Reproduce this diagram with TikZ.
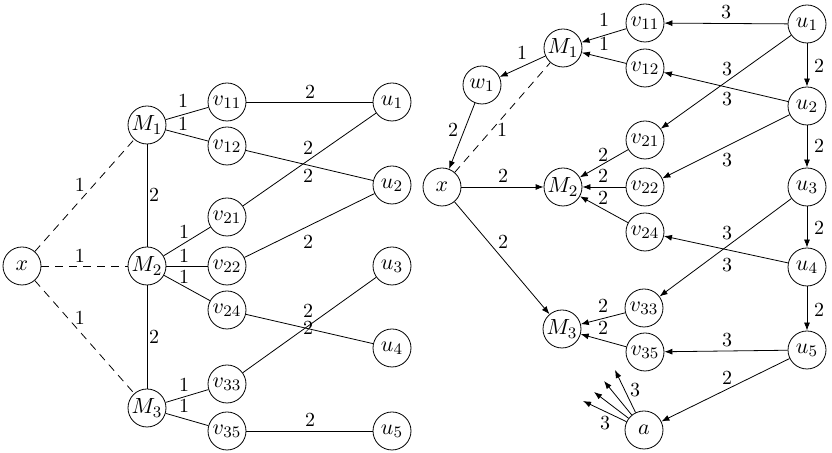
\documentclass[tikz,border=0pt]{standalone}
\usetikzlibrary{arrows.meta}
\begin{document}
\begin{tikzpicture}[x=0.5pt,y=-0.5pt,
  v/.style={circle,draw,inner sep=0pt,minimum size=19pt,font=\fontsize{11}{12}\selectfont},
  lab/.style={inner sep=0pt,font=\fontsize{10}{12}\selectfont},
  e/.style={draw,line width=0.4pt},
  a/.style={e,-{Latex[length=4pt,width=3pt]}},
  d/.style={e,dashed,dash pattern=on 4pt off 3pt}]
\useasboundingbox (0,0) rectangle (832,453);
% left graph
\node[v] (x) at (22,266) {$x$};
\node[v] (M1) at (147,125) {$M_1$};
\node[v] (M2) at (147,266) {$M_2$};
\node[v] (M3) at (147,408) {$M_3$};
\node[v] (v11) at (227,102) {$v_{11}$};
\node[v] (v12) at (227,146) {$v_{12}$};
\node[v] (v21) at (227,217) {$v_{21}$};
\node[v] (v22) at (227,266) {$v_{22}$};
\node[v] (v24) at (227,310) {$v_{24}$};
\node[v] (v33) at (227,384) {$v_{33}$};
\node[v] (v35) at (227,431) {$v_{35}$};
\node[v] (u1) at (392,102) {$u_1$};
\node[v] (u2) at (392,185) {$u_2$};
\node[v] (u3) at (392,266) {$u_3$};
\node[v] (u4) at (392,348) {$u_4$};
\node[v] (u5) at (392,431) {$u_5$};
\path[d] (x) -- (M1) node[lab] at (80,185) {1};
\path[d] (x) -- (M2) node[lab] at (80,256) {1};
\path[d] (x) -- (M3) node[lab] at (80,318) {1};
\path[e] (M1) -- (M2) node[lab] at (154,195) {2};
\path[e] (M2) -- (M3) node[lab] at (154,337) {2};
\path[e] (M1) -- (v11) node[lab] at (183,101) {1};
\path[e] (M1) -- (v12) node[lab] at (183,124) {1};
\path[e] (M2) -- (v21) node[lab] at (184,232) {1};
\path[e] (M2) -- (v22) node[lab] at (184,256) {1};
\path[e] (M2) -- (v24) node[lab] at (184,277) {1};
\path[e] (M3) -- (v33) node[lab] at (184,385) {1};
\path[e] (M3) -- (v35) node[lab] at (184,406) {1};
\path[e] (v11) -- (u1) node[lab] at (310,92) {2};
\path[e] (v12) -- (u2) node[lab] at (308,148) {2};
\path[e] (v21) -- (u1) node[lab] at (308,176) {2};
\path[e] (v22) -- (u2) node[lab] at (308,242) {2};
\path[e] (v24) -- (u4) node[lab] at (308,311) {2};
\path[e] (v33) -- (u3) node[lab] at (308,328) {2};
\path[e] (v35) -- (u5) node[lab] at (310,420) {2};
% right graph
\node[v] (X) at (442,187) {$x$};
\node[v] (RM1) at (563,48) {$M_1$};
\node[v] (RM2) at (563,187) {$M_2$};
\node[v] (RM3) at (562,329) {$M_3$};
\node[v] (w1) at (482,85) {$w_1$};
\node[v] (R11) at (645,23) {$v_{11}$};
\node[v] (R12) at (645,68) {$v_{12}$};
\node[v] (R21) at (645,140) {$v_{21}$};
\node[v] (R22) at (645,187) {$v_{22}$};
\node[v] (R24) at (645,232) {$v_{24}$};
\node[v] (R33) at (644,308) {$v_{33}$};
\node[v] (R35) at (645,352) {$v_{35}$};
\node[v] (U1) at (807,24) {$u_1$};
\node[v] (U2) at (807,106) {$u_2$};
\node[v] (U3) at (807,187) {$u_3$};
\node[v] (U4) at (807,267) {$u_4$};
\node[v] (U5) at (807,350) {$u_5$};
\node[v] (A) at (644,430) {$a$};
\path[a] (R11) -- (RM1) node[lab] at (604,20) {1};
\path[a] (R12) -- (RM1) node[lab] at (604,44) {1};
\path[a] (RM1) -- (w1) node[lab] at (522,53) {1};
\path[a] (w1) -- (X) node[lab] at (453,130) {2};
\path[d] (X) -- (RM1) node[lab] at (502,130) {1};
\path[a] (U1) -- (R11) node[lab] at (726,12) {3};
\path[a] (U1) -- (U2) node[lab] at (819,66) {2};
\path[a] (U1) -- (R21) node[lab] at (727,99) {3};
\path[a] (U2) -- (R12) node[lab] at (727,69) {3};
\path[a] (U2) -- (U3) node[lab] at (819,146) {2};
\path[a] (U2) -- (R22) node[lab] at (727,160) {3};
\path[a] (U3) -- (U4) node[lab] at (819,228) {2};
\path[a] (U3) -- (R33) node[lab] at (727,265) {3};
\path[a] (U4) -- (R24) node[lab] at (727,233) {3};
\path[a] (U4) -- (U5) node[lab] at (819,310) {2};
\path[a] (U5) -- (R35) node[lab] at (727,340) {3};
\path[a] (U5) -- (A) node[lab] at (727,378) {2};
\path[a] (X) -- (RM2) node[lab] at (503,176) {2};
\path[a] (X) -- (RM3) node[lab] at (503,242) {2};
\path[a] (R21) -- (RM2) node[lab] at (603,155) {2};
\path[a] (R22) -- (RM2) node[lab] at (603,176) {2};
\path[a] (R24) -- (RM2) node[lab] at (603,198) {2};
\path[a] (R33) -- (RM3) node[lab] at (603,306) {2};
\path[a] (R35) -- (RM3) node[lab] at (603,328) {2};
\coordinate (f1) at (615,370);
\coordinate (f2) at (604,381);
\coordinate (f3) at (594,392);
\coordinate (f4) at (583,401);
\path[a] (A) -- (f1);
\path[a] (A) -- (f2);
\path[a] (A) -- (f3);
\path[a] (A) -- (f4);
\node[lab] at (635,390) {3};
\node[lab] at (605,423) {3};
\end{tikzpicture}
\end{document}
